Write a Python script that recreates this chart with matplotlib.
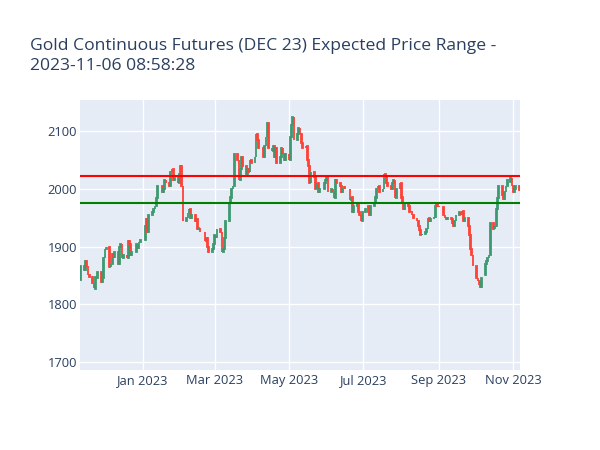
import matplotlib
matplotlib.use("Agg")
import matplotlib.pyplot as plt
import matplotlib.dates as mdates
import pandas as pd
import numpy as np

title = "Gold Continuous Futures (DEC 23) Expected Price Range -\n2023-11-06 08:58:28"
start_date = "2022-11-11"
end_date = "2023-11-06"
holidays = ["2022-11-24", "2022-12-26", "2023-01-02", "2023-01-16", "2023-02-20",
            "2023-04-07", "2023-05-29", "2023-06-19", "2023-07-04", "2023-09-04"]

opens = [1842,
         1866, 1860, 1875, 1866, 1850,
         1848, 1836, 1826, 1846,
         1856, 1838, 1845, 1880, 1896,
         1900, 1865, 1870, 1887, 1882,
         1890, 1870, 1900, 1905, 1880,
         1885, 1880, 1910, 1905, 1885,
         1890, 1905, 1895, 1908,
         1912, 1935, 1948, 1925,
         1955, 1960, 1965, 1970, 1985,
         2005, 1995, 2000, 2015,
         2010, 2005, 2030, 2035, 2015,
         2020, 2010, 2025, 2040, 2005,
         1945, 1950, 1958, 1965, 1950,
         1955, 1945, 1948, 1930, 1933,
         1925, 1910, 1915, 1900,
         1890, 1895, 1905, 1920, 1915,
         1930, 1925, 1890, 1895, 1915,
         1945, 1975, 1985, 2000, 2005,
         2060, 2050, 2015, 2035, 2055,
         2040, 2025, 2035, 2030, 2050,
         2045, 2055, 2095, 2085,
         2070, 2055, 2075, 2090, 2115,
         2070, 2065, 2075, 2055, 2070,
         2045, 2055, 2070, 2060, 2050,
         2060, 2050, 2090, 2110, 2125,
         2085, 2095, 2105, 2095, 2080,
         2070, 2075, 2050, 2040, 2010,
         2030, 2020, 2000, 2010, 1995,
         2000, 2010, 2015, 2020,
         1995, 2000, 1995, 1985, 2015,
         2010, 2005, 1995, 2000, 2005,
         2000, 1980, 1985, 1960,
         1970, 1975, 1960, 1955, 1945,
         1960, 1970, 1960, 1955,
         1970, 1975, 1985, 2000, 2005,
         1995, 2000, 2025, 2020, 2010,
         2005, 2000, 2010, 2015, 1985,
         2000, 2010, 1985, 1975, 1965,
         1975, 1970, 1960, 1962, 1955,
         1950, 1945, 1935, 1928, 1920,
         1922, 1925, 1930, 1950, 1945,
         1948, 1952, 1970, 1975, 1970,
         1968, 1955, 1950, 1948,
         1950, 1948, 1940, 1935, 1945,
         1955, 1960, 1955, 1962, 1945,
         1950, 1935, 1920, 1895, 1885,
         1866, 1845, 1840, 1835, 1830,
         1850, 1870, 1875, 1880, 1885,
         1940, 1930, 1935, 1965, 1985,
         2005, 1990, 1982, 1995, 2005,
         2012, 2018, 2005, 1995, 2000,
         2005]

closes = [1866,
          1860, 1875, 1866, 1850, 1848,
          1836, 1829, 1848, 1856,
          1838, 1845, 1880, 1896, 1898,
          1865, 1870, 1887, 1882, 1890,
          1870, 1900, 1905, 1880, 1885,
          1880, 1910, 1905, 1885, 1890,
          1905, 1895, 1908, 1912,
          1935, 1948, 1925, 1955,
          1960, 1965, 1970, 1985, 2005,
          1995, 2000, 2015, 2010,
          2005, 2030, 2035, 2015, 2020,
          2010, 2025, 2040, 2005, 1945,
          1950, 1958, 1965, 1950, 1955,
          1945, 1948, 1930, 1933, 1925,
          1910, 1915, 1900, 1890,
          1895, 1905, 1920, 1915, 1930,
          1925, 1890, 1895, 1915, 1945,
          1975, 1985, 2000, 2005, 2060,
          2050, 2015, 2035, 2055, 2040,
          2025, 2035, 2030, 2050, 2045,
          2055, 2095, 2085, 2070,
          2055, 2075, 2090, 2115, 2070,
          2065, 2075, 2055, 2070, 2045,
          2055, 2070, 2060, 2050, 2060,
          2050, 2090, 2110, 2125, 2085,
          2095, 2105, 2095, 2080, 2070,
          2075, 2050, 2040, 2010, 2030,
          2020, 2000, 2010, 1995, 2000,
          2010, 2015, 2020, 1995,
          2000, 1995, 1985, 2015, 2010,
          2005, 1995, 2000, 2005, 2000,
          1980, 1985, 1960, 1970,
          1975, 1960, 1955, 1945, 1960,
          1965, 1960, 1955, 1970,
          1975, 1985, 2000, 2005, 1995,
          2000, 2025, 2020, 2010, 2005,
          2000, 2010, 2015, 1985, 2000,
          2010, 1985, 1975, 1965, 1975,
          1970, 1960, 1962, 1955, 1950,
          1945, 1935, 1928, 1920, 1922,
          1925, 1930, 1950, 1945, 1948,
          1952, 1970, 1975, 1970, 1968,
          1955, 1950, 1948, 1950,
          1948, 1940, 1935, 1945, 1955,
          1960, 1955, 1962, 1945, 1950,
          1935, 1920, 1895, 1885, 1866,
          1845, 1840, 1835, 1830, 1845,
          1870, 1875, 1880, 1885, 1940,
          1930, 1935, 1965, 1985, 2005,
          1990, 1982, 1995, 2005, 2015,
          2018, 2005, 1995, 2000, 2005,
          1998]

upper_level = 2023
lower_level = 1976
y_ticks = [1700, 1800, 1900, 2000, 2100]
x_tick_labels = ["Jan 2023", "Mar 2023", "May 2023", "Jul 2023", "Sep 2023", "Nov 2023"]
x_tick_dates = ["2023-01-01", "2023-03-01", "2023-05-01", "2023-07-01", "2023-09-01", "2023-11-01"]

dates = pd.bdate_range(start_date, end_date)
dates = dates[~dates.isin(pd.to_datetime(holidays))]
assert len(dates) == len(opens) == len(closes), (len(dates), len(opens), len(closes))

plt.rcParams['font.family'] = ['Open Sans', 'DejaVu Sans']
text_color = '#2a3f5f'

fig = plt.figure(figsize=(6, 4.5), dpi=100)
ax = fig.add_axes([80/600, 80/450, 440/600, 270/450])
ax.set_facecolor('#E5ECF6')
for s in ax.spines.values():
    s.set_visible(False)

xnum = mdates.date2num(dates)
o = np.array(opens, float)
c = np.array(closes, float)
inc = c > o
colors = np.where(inc, '#3D9970', '#FF4136')
bottoms = np.minimum(o, c)
heights = np.abs(c - o)
ax.bar(xnum, heights, bottom=bottoms, width=0.6, color=colors, edgecolor=colors,
       linewidth=1.3, zorder=3)

ax.axhline(upper_level, color='red', lw=1.5, zorder=4)
ax.axhline(lower_level, color='green', lw=1.5, zorder=4)

ax.set_ylim(1686, 2154)
ax.set_xlim(xnum[0] - 0.5, xnum[-1] + 0.5)
ax.set_yticks(y_ticks)
ax.set_xticks(mdates.date2num(pd.to_datetime(x_tick_dates)))
ax.set_xticklabels(x_tick_labels)
ax.grid(True, color='white', lw=1.0, zorder=0)
ax.set_axisbelow(True)
ax.tick_params(axis='both', length=0, labelsize=9.3, labelcolor=text_color)
ax.tick_params(axis='y', pad=2)
ax.tick_params(axis='x', pad=3)

fig.text(30/600, 1 - 56/450, title, ha='left', va='center', fontsize=12.6,
         color=text_color, linespacing=1.3)

fig.savefig('out.png', dpi=100)
